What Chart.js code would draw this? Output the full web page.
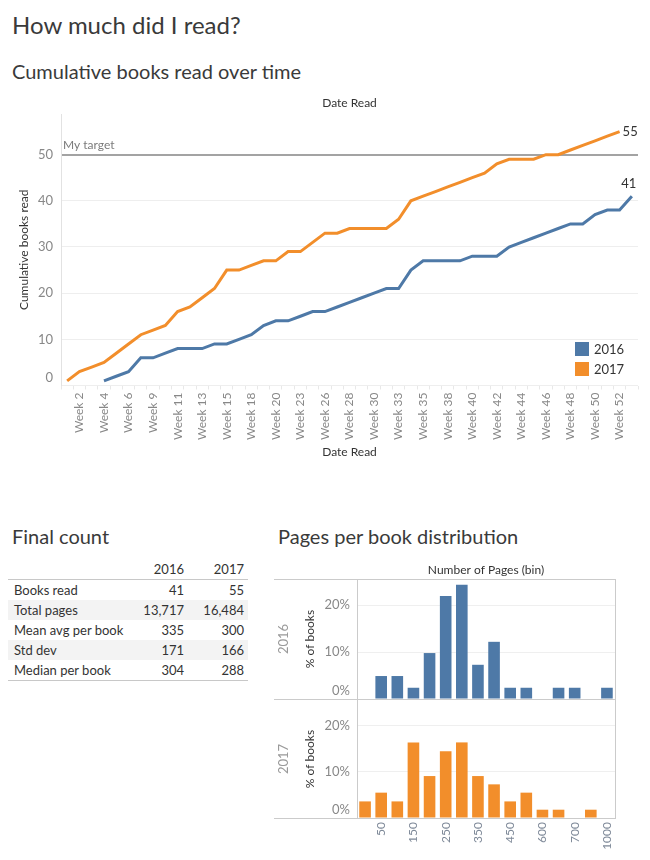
<!DOCTYPE html>
<html>
<head>
<meta charset="utf-8">
<script src="https://cdn.jsdelivr.net/npm/chart.js@4.4.1/dist/chart.umd.min.js"></script>
<style>
  body { margin: 0; background: #fff; font-family: Lato, sans-serif; color: #333; }
  #page { position: relative; width: 650px; height: 860px; overflow: hidden; }
  .t { position: absolute; white-space: nowrap; color: #3a3a3a; }
  canvas { position: absolute; }
  #count { position: absolute; left: 8px; top: 559px; width: 240px; border-collapse: collapse; font-size: 13px; color: #333; table-layout: fixed; }
  #count td { height: 20px; line-height: 20px; padding: 0; white-space: nowrap; }
  #count td.n { text-align: right; }
  #count tr.head td { border-bottom: 1px solid #c8c8c8; height: 19px; }
  #count tr.last td { border-bottom: 1px solid #c8c8c8; }
  #count tr.alt td { background: #f3f3f3; }
</style>
</head>
<body>
<div id="page">
  <div class="t" style="left:12px;top:10px;font-size:24px;">How much did I read?</div>
  <div class="t" style="left:12px;top:59px;font-size:20px;">Cumulative books read over time</div>
  <canvas id="lineChart" width="650" height="380" style="left:0;top:90px"></canvas>

  <div class="t" style="left:12px;top:524px;font-size:20px;">Final count</div>
  <table id="count"></table>

  <div class="t" style="left:278px;top:524px;font-size:20px;">Pages per book distribution</div>
  <canvas id="hist2016" width="376" height="140" style="left:274px;top:560px"></canvas>
  <canvas id="hist2017" width="376" height="160" style="left:274px;top:700px"></canvas>
</div>

<script>
// ---- data ----
const weekLabels = ['Week 1','Week 2','Week 3','Week 4','Week 5','Week 6','Week 8','Week 9','Week 10','Week 11',
  'Week 12','Week 13','Week 14','Week 15','Week 17','Week 18','Week 19','Week 20','Week 22','Week 23',
  'Week 25','Week 26','Week 27','Week 28','Week 29','Week 30','Week 32','Week 33','Week 34','Week 35',
  'Week 37','Week 38','Week 39','Week 40','Week 41','Week 42','Week 43','Week 44','Week 45','Week 46',
  'Week 47','Week 48','Week 49','Week 50','Week 51','Week 52','Week 53']
const books2016 = [null,null,null,1,2,3,6,6,7,8, 8,8,9,9,10,11,13,14,14,15, 16,16,17,18,19,20,21,21,25,27,
  27,27,27,28,28,28,30,31,32,33, 34,35,35,37,38,38,41]
const books2017 = [1,3,4,5,7,9,11,12,13,16, 17,19,21,25,25,26,27,27,29,29, 31,33,33,34,34,34,34,36,40,41,
  42,43,44,45,46,48,49,49,49,50, 50,51,52,53,54,55,null]
const targetBooks = 50

const rowNames = ['Books read','Total pages','Mean avg per book','Std dev','Median per book']
const count2016 = [41, 13717, 335, 171, 304]
const count2017 = [55, 16484, 300, 166, 288]

const pageBins = ['0','50','100','150','200','250','300','350','400','450','500','600','650','700','800','1000']
const pct2016 = [null,4.9,4.9,2.4,9.8,22.0,24.4,7.3,12.2,2.4,2.4,null,2.4,2.4,null,2.4]
const pct2017 = [3.6,5.5,3.6,16.4,9.1,14.5,16.4,9.1,7.3,3.6,5.5,1.8,1.8,null,1.8,null]

const blue = '#4e79a7'
const orange = '#f28e2b'
const fontName = 'Lato'

// ---- table ----
const tbl = document.getElementById('count')
let html = '<tr class="head"><td style="width:116px"></td><td class="n" style="width:60px">2016</td><td class="n" style="width:60px;padding-right:4px">2017</td></tr>'
rowNames.forEach((name, i) => {
  let cls = (i % 2 === 1 ? 'alt' : '') + (i === rowNames.length - 1 ? ' last' : '')
  html += '<tr class="' + cls + '"><td style="padding-left:6px">' + name + '</td><td class="n">' +
    count2016[i].toLocaleString('en-US') + '</td><td class="n" style="padding-right:4px">' +
    count2017[i].toLocaleString('en-US') + '</td></tr>'
})
tbl.innerHTML = html

// no extra label overflow padding, the boxes are fixed by hand
function noPad(s) { s.paddingTop = 0; s.paddingBottom = 0; s.paddingLeft = 0; s.paddingRight = 0 }
// the zero label sits a bit above the baseline, like the original
function zeroUp(text, v) { return v === 0 ? [text, ''] : text }

// ---- line chart ----
const lineExtras = {
  id: 'lineExtras',
  afterDatasetsDraw(chart) {
    const {ctx, chartArea, scales} = chart
    const yt = scales.y.getPixelForValue(targetBooks)
    ctx.save()
    ctx.font = '12px ' + fontName
    ctx.fillStyle = '#7b7b7b'
    ctx.textAlign = 'left'
    ctx.textBaseline = 'bottom'
    ctx.fillText('My target', chartArea.left + 2, yt - 4)

    ctx.font = '13px ' + fontName
    ctx.fillStyle = '#333'
    chart.data.datasets.forEach((ds, i) => {
      let last = ds.data.length - 1
      while (ds.data[last] == null) last--
      const pt = chart.getDatasetMeta(i).data[last]
      if (i === 0) {
        ctx.textAlign = 'center'; ctx.textBaseline = 'bottom'
        ctx.fillText(ds.data[last], pt.x - 3, pt.y - 6)
      } else {
        ctx.textAlign = 'left'; ctx.textBaseline = 'middle'
        ctx.fillText(ds.data[last], pt.x + 3, pt.y)
      }
    })

    // legend, bottom right of plot
    chart.data.datasets.forEach((ds, i) => {
      const top = chartArea.bottom - 43.5 + i * 20
      ctx.fillStyle = ds.borderColor
      ctx.fillRect(chartArea.right - 63, top, 14, 14)
      ctx.fillStyle = '#333'
      ctx.textAlign = 'left'; ctx.textBaseline = 'middle'
      ctx.fillText(ds.label, chartArea.right - 44, top + 7.5)
    })
    ctx.restore()
  }
}

new Chart(document.getElementById('lineChart'), {
  type: 'line',
  data: {
    labels: weekLabels,
    datasets: [
      {label: '2016', data: books2016, borderColor: blue, backgroundColor: blue},
      {label: '2017', data: books2017, borderColor: orange, backgroundColor: orange}
    ]
  },
  options: {
    responsive: false,
    animation: false,
    layout: {padding: {top: 0, right: 12, bottom: 0, left: 0}},
    elements: {point: {radius: 0}, line: {borderWidth: 3, tension: 0}},
    plugins: {legend: {display: false}, tooltip: {enabled: false}},
    scales: {
      x: {
        offset: true,
        grid: {display: true, drawOnChartArea: false, offset: true, tickLength: 4, color: '#e8e8e8'},
        border: {display: false},
        ticks: {
          autoSkip: false, maxRotation: 90, minRotation: 90, padding: 3, color: '#888',
          font: {family: fontName, size: 12},
          callback: function (v, i) { return i % 2 === 1 ? this.getLabelForValue(v) : '' }
        },
        title: {display: true, text: 'Date Read', color: '#333', font: {family: fontName, size: 12}, padding: {top: 0, bottom: 10.8}},
        afterFit: s => { s.height = 84.5; noPad(s) }
      },
      xTop: {
        type: 'category', position: 'top',
        grid: {display: false, drawTicks: false}, border: {display: false},
        ticks: {display: false},
        title: {display: true, text: 'Date Read', color: '#333', font: {family: fontName, size: 12}, padding: {top: 5.8, bottom: 0}},
        afterFit: s => { s.height = 24; noPad(s) }
      },
      y: {
        min: 0, max: 58.8,
        ticks: {stepSize: 10, includeBounds: false, padding: 8, color: '#888', font: {family: fontName, size: 13},
          callback: v => zeroUp(String(v), v)},
        grid: {
          drawTicks: false,
          color: c => c.tick && c.tick.value === targetBooks ? '#a3a3a3' : '#eeeeee',
          lineWidth: c => c.tick && c.tick.value === targetBooks ? 2 : 1
        },
        border: {display: true, color: '#e2e2e2'},
        title: {display: true, text: 'Cumulative books read', color: '#333', font: {family: fontName, size: 12}, padding: {top: 16.8, bottom: 0}},
        afterFit: s => { s.width = 61; noPad(s) }
      }
    }
  },
  plugins: [lineExtras]
})

// ---- histograms ----
const panelFrame = {
  id: 'panelFrame',
  afterDraw(chart, args, opts) {
    const {ctx, chartArea: {left, right, top, bottom}} = chart
    ctx.save()
    ctx.strokeStyle = '#cbcbcb'
    ctx.lineWidth = 1
    ctx.beginPath()
    if (opts.topLine) { ctx.moveTo(0, top + 0.5); ctx.lineTo(right + 1, top + 0.5) }
    ctx.moveTo(0, bottom + 0.5); ctx.lineTo(right + 1, bottom + 0.5)
    ctx.moveTo(left + 0.5, top); ctx.lineTo(left + 0.5, bottom)
    ctx.moveTo(right + 0.5, top); ctx.lineTo(right + 0.5, bottom + 1)
    ctx.stroke()

    ctx.fillStyle = '#9a9a9a'
    ctx.font = '13px ' + fontName
    ctx.textAlign = 'center'; ctx.textBaseline = 'middle'
    ctx.translate(10, (top + bottom) / 2)
    ctx.rotate(-Math.PI / 2)
    ctx.fillText(opts.year, 0, 0)
    ctx.restore()

    if (opts.header) {
      ctx.save()
      ctx.fillStyle = '#333'
      ctx.font = '12px ' + fontName
      ctx.textAlign = 'center'; ctx.textBaseline = 'middle'
      ctx.fillText(opts.header, (left + right) / 2, top - 9)
      ctx.restore()
    }
  }
}

function makeHist(id, values, color, year, showX) {
  return new Chart(document.getElementById(id), {
    type: 'bar',
    data: {labels: pageBins, datasets: [{label: year, data: values, backgroundColor: color, barPercentage: 0.72, categoryPercentage: 1}]},
    options: {
      responsive: false,
      animation: false,
      layout: {padding: {top: showX ? 0 : 19, right: 35, bottom: showX ? 0 : 1, left: 0}},
      plugins: {
        legend: {display: false}, tooltip: {enabled: false},
        panelFrame: {year: year, topLine: !showX, header: showX ? '' : 'Number of Pages (bin)'}
      },
      scales: {
        x: {
          display: showX,
          offset: true,
          grid: {display: false, drawTicks: false},
          border: {display: false},
          ticks: {
            autoSkip: false, maxRotation: 90, minRotation: 90, padding: 4, color: '#7f8a99',
            font: {family: fontName, size: 12},
            callback: function (v, i) { return i % 2 === 1 ? this.getLabelForValue(v) : '' }
          },
          afterFit: s => { s.height = showX ? 42 : 0; noPad(s) }
        },
        y: {
          min: 0, max: 25.6,
          ticks: {stepSize: 10, includeBounds: false, padding: 7, color: '#888', font: {family: fontName, size: 13},
            callback: v => zeroUp(v + '%', v)},
          grid: {drawTicks: false, color: '#efefef'},
          border: {display: false},
          title: {display: true, text: '% of books', color: '#333', font: {family: fontName, size: 12}, padding: {top: 28.8, bottom: 0}},
          afterFit: s => { s.width = 83; noPad(s) }
        }
      }
    },
    plugins: [panelFrame]
  })
}

makeHist('hist2016', pct2016, blue, '2016', false)
makeHist('hist2017', pct2017, orange, '2017', true)
</script>
</body>
</html>
